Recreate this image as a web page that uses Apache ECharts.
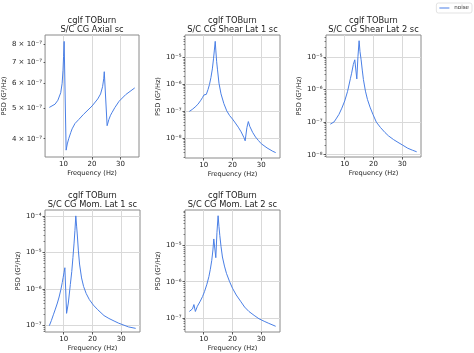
<!DOCTYPE html>
<html>
<head>
<meta charset="utf-8">
<title>cglf TOBurn PSD</title>
<script src="https://cdn.jsdelivr.net/npm/echarts@6/dist/echarts.min.js"></script>
<style>
  html, body { margin: 0; padding: 0; background: #fff; }
  #chart { width: 474px; height: 353px; }
</style>
</head>
<body>
<div id="chart"></div>
<script>
// Panel titles
const titles = [
  'cglf TOBurn\nS/C CG Axial sc',
  'cglf TOBurn\nS/C CG Shear Lat 1 sc',
  'cglf TOBurn\nS/C CG Shear Lat 2 sc',
  'cglf TOBurn\nS/C CG Mom. Lat 1 sc',
  'cglf TOBurn\nS/C CG Mom. Lat 2 sc'
];

// Frequency (Hz) / PSD (G^2/Hz)
const freqAxial = [5, 7, 8, 9, 9.5, 9.8, 10.0, 10.2, 10.9, 11.3, 11.8, 12.5, 13, 14, 15.3, 17, 20, 22, 23, 23.7, 24.1, 24.3, 25.3, 25.9, 26.5, 27, 28, 29.5, 31.8, 35];
const psdAxial = [5.03e-7, 5.15e-7, 5.3e-7, 5.6e-7, 6.0e-7, 6.6e-7, 7.3e-7, 8.15e-7, 3.68e-7, 3.85e-7, 4.0e-7, 4.18e-7, 4.3e-7, 4.47e-7, 4.6e-7, 4.78e-7, 5.08e-7, 5.35e-7, 5.55e-7, 5.85e-7, 6.2e-7, 6.53e-7, 4.4e-7, 4.6e-7, 4.75e-7, 4.84e-7, 5.02e-7, 5.26e-7, 5.52e-7, 5.8e-7];

const freqShear1 = [5, 6, 7, 8, 9, 9.6, 10.1, 10.4, 10.6, 10.9, 11.5, 12, 12.5, 13, 13.4, 13.7, 14, 14.2, 14.5, 14.8, 15.3, 16, 17, 18, 19, 20, 21, 22, 23, 24, 24.4, 25, 25.5, 26, 27, 28, 29, 30, 32, 34, 35];
const psdShear1 = [1.0e-7, 1.18e-7, 1.45e-7, 1.85e-7, 2.6e-7, 3.3e-7, 4.1e-7, 4.6e-7, 3.6e-7, 4.3e-7, 6.5e-7, 1.0e-6, 1.8e-6, 3.8e-6, 9.0e-6, 1.9e-5, 4.0e-5, 1.9e-5, 7.0e-6, 3.5e-6, 1.12e-6, 4.5e-7, 1.95e-7, 1.05e-7, 7.0e-8, 5.2e-8, 3.7e-8, 2.6e-8, 1.74e-8, 1.05e-8, 8.1e-9, 2.5e-8, 4.2e-8, 2.8e-8, 1.66e-8, 1.12e-8, 8.3e-9, 6.3e-9, 4.4e-9, 3.3e-9, 2.95e-9];

const freqShear2 = [5, 6.3, 7, 7.3, 8, 9, 10, 11, 12, 12.4, 13, 13.5, 14.2, 14.6, 15, 15.3, 15.7, 16.1, 16.5, 17.2, 17.9, 18.8, 19.8, 21, 22.4, 24, 25.2, 27, 28.5, 30, 31.9, 33.5, 35];
const psdShear2 = [8.7e-8, 1.02e-7, 1.26e-7, 1.35e-7, 1.74e-7, 2.7e-7, 4.5e-7, 8.9e-7, 2.24e-6, 3.2e-6, 6.0e-6, 8.3e-6, 2.14e-6, 1.05e-5, 3.2e-5, 1.5e-5, 8.3e-6, 4.0e-6, 2.04e-6, 9.0e-7, 5.0e-7, 2.9e-7, 1.74e-7, 1.0e-7, 6.9e-8, 4.8e-8, 3.8e-8, 2.9e-8, 2.4e-8, 2.0e-8, 1.58e-8, 1.38e-8, 1.23e-8];

const freqMom1 = [5, 5.7, 6.4, 7.1, 7.8, 8.4, 9, 9.5, 9.8, 10.1, 10.4, 11.0, 11.6, 12.3, 12.8, 13.2, 13.6, 13.9, 14.2, 14.5, 14.7, 15.1, 15.5, 16.2, 16.9, 17.8, 18.9, 20.3, 21.8, 24, 25.7, 27.5, 29.1, 32.5, 35];
const psdMom1 = [9.8e-8, 1.35e-7, 1.95e-7, 2.8e-7, 4.1e-7, 6.0e-7, 9.5e-7, 1.5e-6, 2.04e-6, 2.8e-6, 3.8e-6, 2.14e-7, 4.1e-7, 1.32e-6, 3.0e-6, 7.2e-6, 1.8e-5, 4.0e-5, 1.0e-4, 5.0e-5, 3.2e-5, 1.1e-5, 4.8e-6, 2.0e-6, 1.17e-6, 7.5e-7, 5.1e-7, 3.6e-7, 2.7e-7, 1.86e-7, 1.55e-7, 1.32e-7, 1.15e-7, 9.1e-8, 8.3e-8];

const freqMom2 = [5, 6.1, 6.6, 7.1, 7.8, 8.8, 9.6, 10.3, 11.1, 11.8, 12.3, 12.8, 13.2, 13.5, 13.8, 14.2, 14.6, 15.0, 15.3, 15.6, 16.0, 16.5, 17.2, 17.9, 19, 20, 21.3, 22.8, 24.2, 25.7, 27.5, 29.2, 31, 32.6, 35];
const psdMom2 = [1.51e-7, 1.78e-7, 2.34e-7, 1.51e-7, 2.1e-7, 2.9e-7, 3.9e-7, 5.4e-7, 8.5e-7, 1.38e-6, 2.2e-6, 3.9e-6, 7.5e-6, 1.51e-5, 1.7e-5, 4.6e-6, 2.3e-5, 6.6e-5, 3.3e-5, 1.86e-5, 9.5e-6, 4.8e-6, 2.7e-6, 1.7e-6, 1.0e-6, 6.6e-7, 4.3e-7, 2.9e-7, 2.0e-7, 1.51e-7, 1.18e-7, 9.5e-8, 8.1e-8, 7.1e-8, 5.9e-8];

// Tick values
const freqTicks = [10, 20, 30];
const axialTicks = [4e-7, 5e-7, 6e-7, 7e-7, 8e-7];
const decadeTicks = [1e-8, 1e-7, 1e-6, 1e-5, 1e-4];

// Axis ranges (PSD, log scale)
const psdRanges = [
  [3.5e-7, 8.54e-7],
  [1.86e-9, 6.9e-5],
  [8.5e-9, 4.8e-5],
  [6.6e-8, 1.45e-4],
  [4.1e-8, 9.5e-5]
];

const panels = [
  { freq: freqAxial, psd: psdAxial },
  { freq: freqShear1, psd: psdShear1 },
  { freq: freqShear2, psd: psdShear2 },
  { freq: freqMom1, psd: psdMom1 },
  { freq: freqMom2, psd: psdMom2 }
];

// Layout in px
const boxes = [
  { left: 45, top: 35, width: 94, height: 122, nameGap: 35 },
  { left: 185, top: 35, width: 95, height: 123, nameGap: 22 },
  { left: 326, top: 35, width: 95, height: 122, nameGap: 20 },
  { left: 45, top: 210, width: 95, height: 122, nameGap: 18 },
  { left: 185, top: 210, width: 95, height: 122, nameGap: 22 }
];

const FONT = '"DejaVu Sans", sans-serif';
const LINE_COLOR = '#4a7fe6';
const SUP = { '-': '\u207B', '0': '\u2070', '1': '\u00B9', '2': '\u00B2', '3': '\u00B3', '4': '\u2074', '5': '\u2075', '6': '\u2076', '7': '\u2077', '8': '\u2078', '9': '\u2079' };
const sup = s => String(s).split('').map(c => SUP[c] || c).join('');
const lg = v => Math.log10(v);

function minorTicks(range) {
  const out = [];
  for (let e = -10; e <= -3; e++) {
    for (let m = 2; m <= 9; m++) {
      const v = m * Math.pow(10, e);
      if (v >= range[0] && v <= range[1]) out.push(lg(v));
    }
  }
  return out;
}

const chart = echarts.init(document.getElementById('chart'), null, { renderer: 'canvas' });

const grid = [], xAxis = [], yAxis = [], yMinor = [], series = [], title = [];

panels.forEach((p, i) => {
  const b = boxes[i];
  const axial = i === 0;
  const range = psdRanges[i];
  grid.push({
    left: b.left, top: b.top, width: b.width, height: b.height,
    show: true, borderColor: '#8a8a8a', borderWidth: 1, backgroundColor: 'transparent'
  });
  title.push({
    text: titles[i],
    left: b.left + b.width / 2,
    top: b.top - 19,
    textAlign: 'center',
    padding: 0,
    textStyle: { fontSize: 8.3, fontWeight: 'normal', lineHeight: 9, color: '#222', fontFamily: FONT }
  });
  xAxis.push({
    gridIndex: i, type: 'value', min: 3.5, max: 36.5,
    axisLine: { show: false },
    axisTick: { customValues: freqTicks, length: 2.5, lineStyle: { color: '#333', width: 0.8 } },
    axisLabel: { customValues: freqTicks, fontSize: 7, margin: 4, color: '#222', fontFamily: FONT },
    splitLine: { show: true, lineStyle: { color: '#d9d9d9', width: 1 } },
    name: 'Frequency (Hz)', nameLocation: 'middle', nameGap: 13,
    nameTextStyle: { fontSize: 6.6, color: '#222', fontFamily: FONT }
  });
  const majors = axial ? axialTicks : decadeTicks;
  const majorLog = majors.filter(v => v >= range[0] && v <= range[1]).map(lg);
  yAxis.push({
    gridIndex: i, type: 'value', min: lg(range[0]), max: lg(range[1]),
    axisLine: { show: false },
    axisTick: { customValues: majorLog, length: axial ? 1.5 : 2.5, lineStyle: { color: '#333', width: 0.8 } },
    axisLabel: {
      customValues: majorLog, fontSize: 7, margin: axial ? 3 : 3.5, color: '#222', fontFamily: FONT,
      formatter: v => {
        if (axial) {
          const m = Math.round(Math.pow(10, v) * 1e7);
          return m + ' \u00D7 10' + sup(-7);
        }
        return '10' + sup(Math.round(v));
      }
    },
    splitLine: { show: !axial, lineStyle: { color: '#d9d9d9', width: 1 } },
    name: 'PSD (G\u00B2/Hz)', nameLocation: 'middle', nameGap: b.nameGap,
    nameTextStyle: { fontSize: 6.6, color: '#222', fontFamily: FONT }
  });
  yMinor.push({
    gridIndex: i, type: 'value', min: lg(range[0]), max: lg(range[1]), position: 'left',
    axisLine: { show: false },
    axisTick: { show: !axial, customValues: minorTicks(range), length: 1.5, lineStyle: { color: '#333', width: 0.6 } },
    axisLabel: { show: false },
    splitLine: { show: false }
  });
  series.push({
    name: 'noise', type: 'line', xAxisIndex: i, yAxisIndex: i,
    data: p.freq.map((f, k) => [f, lg(p.psd[k])]),
    symbol: 'none', silent: true,
    lineStyle: { color: LINE_COLOR, width: 1 },
    itemStyle: { color: LINE_COLOR }
  });
});

chart.setOption({
  animation: false,
  backgroundColor: '#fff',
  title: title,
  legend: {
    data: ['noise'], right: 2, top: 3,
    icon: 'rect', itemWidth: 10, itemHeight: 1, itemGap: 2,
    itemStyle: { color: LINE_COLOR },
    padding: [2, 3], borderColor: '#dcdcdc', borderWidth: 0.8, borderRadius: 2,
    textStyle: { fontSize: 5.5, color: '#333', fontFamily: FONT, lineHeight: 6 }
  },
  grid: grid,
  xAxis: xAxis,
  yAxis: yAxis.concat(yMinor),
  series: series
});
</script>
</body>
</html>
